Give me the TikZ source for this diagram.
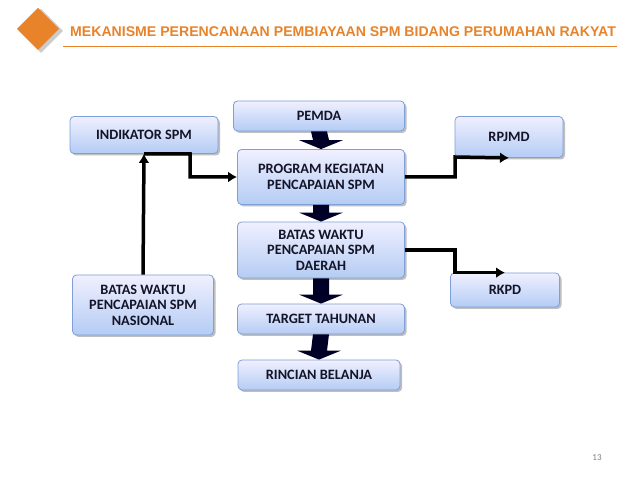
\documentclass[tikz,border=0pt]{standalone}
\usepackage{fontspec}
\setmainfont{Carlito}
\newfontfamily\ttl{Liberation Sans}
\usetikzlibrary{shadows,arrows.meta}
\definecolor{bord}{HTML}{7F9FD6}
\definecolor{orng}{HTML}{E8832A}
\tikzset{
 box/.style={draw=bord,line width=0.8pt,rounded corners=4pt,top color=blue!6!white,bottom color={rgb,255:red,180;green,204;blue,244},
   font=\bfseries\fontsize{14.3}{15.5}\selectfont,text={rgb,255:red,20;green,20;blue,40},align=center,inner sep=2pt,
   drop shadow={shadow xshift=2pt,shadow yshift=-2pt,fill=gray!50,opacity=1}},
 conn/.style={line width=3.5pt,-{Latex[length=9pt,width=11pt]}},
}
\begin{document}
\begin{tikzpicture}[x=1pt,y=-1pt]
\useasboundingbox[fill=white] (0,0) rectangle (638,478);
% header
\fill[gray!40] (41,9) -- (63,31) -- (41,53) -- (19,31) -- cycle;
\fill[orng] (38,8) -- (59,29) -- (38,50) -- (17,29) -- cycle;
\node[anchor=west,font=\ttl\bfseries\fontsize{14.1}{15}\selectfont,text=orng,inner sep=0] (title) at (70,32) {MEKANISME PERENCANAAN PEMBIAYAAN SPM BIDANG PERUMAHAN RAKYAT};
\draw[orng,line width=0.6pt] (63,46) -- (617,46);
% boxes
\node[box,minimum width=171pt,minimum height=30pt] (pemda) at (319,116) {PEMDA};
\node[box,minimum width=148pt,minimum height=37pt] (ind) at (144,135) {INDIKATOR SPM};
\node[box,minimum width=167pt,minimum height=55pt] (prog) at (321,177) {PROGRAM KEGIATAN\\PENCAPAIAN SPM};
\node[box,minimum width=108pt,minimum height=41pt] (rpjmd) at (509,137) {RPJMD};
\node[box,minimum width=167pt,minimum height=56pt] (bwd) at (321,250) {BATAS WAKTU\\PENCAPAIAN SPM\\DAERAH};
\node[box,minimum width=109pt,minimum height=34pt] (rkpd) at (505,290) {RKPD};
\node[box,minimum width=141pt,minimum height=60pt] (bwn) at (143,305) {BATAS WAKTU\\PENCAPAIAN SPM\\NASIONAL};
\node[box,minimum width=167pt,minimum height=30pt] (tgt) at (321,319) {TARGET TAHUNAN};
\node[box,minimum width=162pt,minimum height=30pt] (rin) at (319,375) {RINCIAN BELANJA};
% block arrows
\foreach \a/\b in {pemda/prog,prog/bwd,bwd/tgt,tgt/rin}{
  \fill[black!85!blue] ([xshift=-8pt]\a.south) -- ([xshift=8pt]\a.south) -- ([xshift=8pt,yshift=9pt]\b.north) -- ([xshift=22pt,yshift=9pt]\b.north) -- (\b.north) -- ([xshift=-22pt,yshift=9pt]\b.north) -- ([xshift=-8pt,yshift=9pt]\b.north) -- cycle;
}
% connectors
\coordinate (c1) at (190,154);
\draw[conn] (bwn.north) -- (ind.south);
\draw[conn] (ind.south) -- (c1) |- (prog.west);
\coordinate (c2) at (455,157);
\draw[conn] (prog.east) -| (c2) -- (rpjmd.south);
\coordinate (c3) at (455,250);
\draw[conn] (bwd.east) -- (c3) |- (rkpd.north);
\node[font=\fontsize{9}{10}\selectfont,text=gray] (pg) at (597,458) {13};
\end{tikzpicture}
\end{document}
